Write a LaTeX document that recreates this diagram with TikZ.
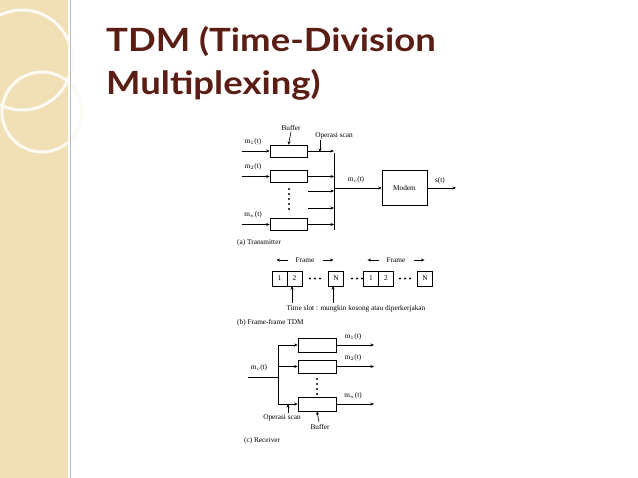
\documentclass[tikz,border=0pt]{standalone}
\usepackage{fontspec}
\setmainfont{Liberation Serif}
\newfontfamily\titlefont[FakeStretch=1.14]{Lato}
\usetikzlibrary{arrows.meta}
\definecolor{beige}{HTML}{F1DFB5}
\definecolor{titlebrown}{HTML}{5A1E14}
\tikzset{
  ln/.style={line width=0.6pt},
  ar/.style={ln,-{Stealth[length=3.5pt,width=3pt]}},
  bx/.style={draw,line width=0.6pt},
  lb/.style={font=\fontsize{7.3}{8}\selectfont,inner sep=0pt},
  ttl/.style={font=\titlefont\bfseries\fontsize{32}{36}\selectfont,anchor=base west,inner sep=0pt,text=titlebrown}
}
\begin{document}
\begin{tikzpicture}[x=1pt,y=-1pt]
\useasboundingbox (0,0) rectangle (638,478);
\fill[white] (0,0) rectangle (638,478);
% left strip
\fill[beige] (0,0) rectangle (68,478);
\draw[white!85!beige,line width=3pt] (22,60) circle (50);
\draw[white!85!beige,line width=3pt] (42,112) circle (40);
\draw[black!25,line width=0.8pt] (70,0) -- (70,478);
% title
\node[ttl] (t1) at (106,52) {TDM (Time-Division};
\node[ttl] (t2) at (106,95) {Multiplexing)};
% ---- transmitter
\node[bx,minimum width=37pt,minimum height=12pt,inner sep=0pt] (b1) at (288.5,151) {};
\node[bx,minimum width=37pt,minimum height=12pt,inner sep=0pt] (b2) at (288.5,176.5) {};
\node[bx,minimum width=37pt,minimum height=12pt,inner sep=0pt] (bn) at (288.5,224.5) {};
\coordinate (i1) at (242,151); \coordinate (i2) at (242,176.5); \coordinate (in) at (242,224.5);
\draw[ar] (i1) -- (b1.west); \draw[ar] (i2) -- (b2.west); \draw[ar] (in) -- (bn.west);
\node[lb] (lm1) at (253,142) {m$_1$(t)};
\node[lb] (lm2) at (253,167) {m$_2$(t)};
\node[lb] (lmn) at (253,215) {m$_n$(t)};
\foreach \y in {189,194,199,204,209} \fill (289,\y) circle (1.1);
\coordinate (bt) at (334,153); \coordinate (bb) at (334,230);
\draw[ln] (bt) -- (bb);
\draw[ar] (b1.east) -- (334,151);
\draw[ar] (b2.east) -- (334,176.5);
\draw[ar] (bn.east) -- (334,224.5);
\coordinate (e1) at (308,191); \coordinate (e2) at (308,208);
\draw[ar] (e1) -- (334,191); \draw[ar] (e2) -- (334,208);
\node[bx,minimum width=45pt,minimum height=35pt,inner sep=0pt,lb] (modem) at (404.5,188) {Modem};
\draw[ar] (334,188) -- (modem.west);
\node[lb] (lmc) at (356,180) {m$_c$(t)};
\coordinate (so) at (456,188);
\draw[ar] (modem.east) -- (so);
\node[lb] (lst) at (440,181) {s(t)};
\node[lb] (lbuf) at (291,128) {Buffer};
\draw[ar] (lbuf.south) ++(0,1) -- (b1.north);
\node[lb] (lop) at (334,136) {Operasi scan};
\coordinate (opd) at (320,152);
\draw[ar] (320,140) -- (opd);
\node[lb,anchor=west] (lta) at (237,243) {(a) Transmitter};
% ---- frames
\tikzset{sl/.style={bx,minimum width=15pt,minimum height=15pt,inner sep=0pt,lb}}
\node[sl] (f1) at (279.5,278.5) {1};
\node[sl] (f2) at (294.5,278.5) {2};
\node[sl] (fn) at (336,278.5) {N};
\node[sl] (g1) at (371,278.5) {1};
\node[sl] (g2) at (386,278.5) {2};
\node[sl] (gn) at (425,278.5) {N};
\foreach \x in {310,315,320, 352,357,362, 400,405,410} \fill (\x,278.5) circle (1.1);
\node[lb] (fr1) at (305,260) {Frame};
\node[lb] (fr2) at (396,260) {Frame};
\draw[ar] (fr1.west) ++(-7,0) -- ++(-12,0);
\draw[ar] (fr1.east) ++(8,0) -- ++(11,0);
\draw[ar] (fr2.west) ++(-7,0) -- ++(-12,0);
\draw[ar] (fr2.east) ++(8,0) -- ++(11,0);
\node[lb] (ts) at (356,309) {Time slot : mungkin kosong atau diperkerjakan};
\draw[ar] (292,303) -- (292,286);
\draw[ar] (333,303) -- (333,286);
\node[lb,anchor=west] (ltb) at (237,323) {(b) Frame-frame TDM};
% ---- receiver
\node[bx,minimum width=38pt,minimum height=14pt,inner sep=0pt] (r1) at (317,345) {};
\node[bx,minimum width=38pt,minimum height=13pt,inner sep=0pt] (r2) at (317,366.5) {};
\node[bx,minimum width=38pt,minimum height=14pt,inner sep=0pt] (rn) at (317,404) {};
\coordinate (rin) at (248,377);
\draw[ln] (rin) -- (278,377);
\draw[ln] (278,345) -- (278,404);
\draw[ar] (278,345) -- (r1.west);
\draw[ar] (278,366.5) -- (r2.west);
\draw[ar] (278,404) -- (rn.west);
\node[lb] (lrmc) at (259,368) {m$_c$(t)};
\coordinate (o1) at (374,345); \coordinate (o2) at (374,366.5); \coordinate (on) at (374,404);
\draw[ar] (r1.east) -- (o1); \draw[ar] (r2.east) -- (o2); \draw[ar] (rn.east) -- (on);
\node[lb] (lr1) at (353,337) {m$_1$(t)};
\node[lb] (lr2) at (353,358) {m$_2$(t)};
\node[lb] (lrn) at (353,396) {m$_n$(t)};
\foreach \y in {379,384,389,394} \fill (317,\y) circle (1.1);
\node[lb] (rop) at (282,418) {Operasi scan};
\draw[ar] (288,413) -- (288,404);
\node[lb] (rbuf) at (320,427) {Buffer};
\draw[ar] (319,422) -- (rn.south);
\node[lb,anchor=west] (ltc) at (244,441) {(c) Receiver};
\end{tikzpicture}
\end{document}
